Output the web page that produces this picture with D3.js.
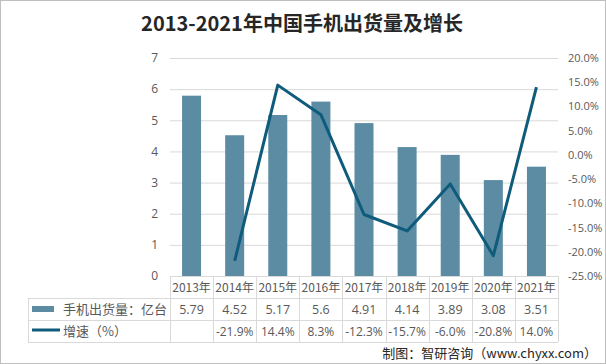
<!DOCTYPE html>
<html><head><meta charset="utf-8">
<script src="https://cdn.jsdelivr.net/npm/d3@7/dist/d3.min.js"></script>
<style>
html,body{margin:0;padding:0;background:#fff}
svg{display:block;font-family:"Noto Sans CJK SC","Noto Sans",sans-serif}
</style></head>
<body><div id="chart"></div>
<script>
const years=["2013年","2014年","2015年","2016年","2017年","2018年","2019年","2020年","2021年"];
const shipments=[5.79,4.52,5.17,5.6,4.91,4.14,3.89,3.08,3.51];
const growth=[null,-21.9,14.4,8.3,-12.3,-15.7,-6.0,-20.8,14.0];
const leftTicks=[0,1,2,3,4,5,6,7];
const rightTicks=[20,15,10,5,0,-5,-10,-15,-20,-25];
const seriesNames=["手机出货量：亿台","增速（%）"];

(function(){
  const W=606,H=364;
  const barColor="#5b8ca4",lineColor="#0f5b7b",grid="#d9d9d9",txt="#595959";
  const svg=d3.select("#chart").append("svg").attr("width",W).attr("height",H);
  svg.append("rect").attr("x",0.5).attr("y",0.5).attr("width",W-1).attr("height",H-1)
    .attr("fill","#fff").attr("stroke","#bfbfbf");
  svg.append("text").attr("x",302).attr("y",31).attr("text-anchor","middle")
    .attr("font-size",20).attr("font-weight","bold").attr("fill","#262626")
    .text("2013-2021年中国手机出货量及增长");

  const x0=170,x1=558,yTop=58,yBot=276;
  const x=d3.scaleBand().domain(years).range([x0,x1]);
  const y=d3.scaleLinear().domain([0,7]).range([yBot,yTop]);
  const y2=d3.scaleLinear().domain([-25,20]).range([yBot,yTop]);
  const af="'Open Sans',sans-serif";

  // gridlines + left axis
  const gl=svg.append("g").attr("transform",`translate(${x0},0)`)
    .call(d3.axisLeft(y).tickValues(leftTicks).tickSize(-(x1-x0)).tickPadding(12).tickFormat(d3.format("d")));
  gl.select(".domain").remove();
  gl.selectAll("line").attr("stroke",grid);
  gl.selectAll("text").attr("fill",txt).attr("font-size",12).attr("font-family",af);

  // right axis
  const gr=svg.append("g").attr("transform",`translate(${x1},0)`)
    .call(d3.axisRight(y2).tickValues(rightTicks).tickSize(0).tickPadding(10).tickFormat(d=>d.toFixed(1)+"%"));
  gr.select(".domain").remove();
  gr.selectAll("text").attr("fill",txt).attr("font-size",11).attr("font-family",af);

  // bars
  const bw=19;
  svg.append("g").selectAll("rect").data(shipments).join("rect")
    .attr("x",(d,i)=>x(years[i])+x.bandwidth()/2-bw/2)
    .attr("y",d=>y(d)).attr("width",bw).attr("height",d=>yBot-y(d))
    .attr("fill",barColor);

  // line
  const pts=growth.map((g,i)=>({g,i})).filter(d=>d.g!==null);
  svg.append("path").datum(pts).attr("fill","none").attr("stroke",lineColor)
    .attr("stroke-width",3).attr("stroke-linejoin","round")
    .attr("d",d3.line().x(d=>x(years[d.i])+x.bandwidth()/2).y(d=>y2(d.g)));

  // data table
  const tl=28,rows=[yBot,298,320,342];
  const t=svg.append("g").attr("stroke",grid).attr("shape-rendering","crispEdges");
  t.append("line").attr("x1",x0).attr("x2",x1).attr("y1",yBot+0.5).attr("y2",yBot+0.5);
  [rows[1],rows[2],rows[3]].forEach(r=>t.append("line").attr("x1",tl).attr("x2",x1).attr("y1",r+0.5).attr("y2",r+0.5));
  t.append("line").attr("x1",tl+0.5).attr("x2",tl+0.5).attr("y1",rows[1]).attr("y2",rows[3]);
  years.concat([null]).forEach(yr=>{
    const xx=yr?x(yr):x1;
    t.append("line").attr("x1",xx+0.5).attr("x2",xx+0.5).attr("y1",yBot).attr("y2",rows[3]);
  });
  const cx=d=>x(d)+x.bandwidth()/2;
  const tf="'Open Sans','Noto Sans CJK SC',sans-serif";
  svg.append("g").selectAll("text").data(years).join("text")
    .attr("x",cx).attr("y",292).attr("text-anchor","middle").attr("font-size",12)
    .attr("font-family","'Noto Sans CJK SC',sans-serif").attr("fill",txt).text(d=>d);
  svg.append("g").selectAll("text").data(shipments).join("text")
    .attr("x",(d,i)=>cx(years[i])).attr("y",314).attr("text-anchor","middle").attr("font-size",12.5)
    .attr("font-family",tf).attr("fill",txt).text(d=>d);
  svg.append("g").selectAll("text").data(growth).join("text")
    .attr("x",(d,i)=>cx(years[i])).attr("y",336).attr("text-anchor","middle").attr("font-size",12)
    .attr("font-family",tf).attr("fill",txt).text(d=>d===null?"":d.toFixed(1)+"%");

  // legend keys
  svg.append("rect").attr("x",32).attr("y",306).attr("width",22).attr("height",6).attr("fill",barColor);
  svg.append("line").attr("x1",32).attr("x2",60).attr("y1",330).attr("y2",330).attr("stroke",lineColor).attr("stroke-width",3);
  svg.append("text").attr("x",63).attr("y",314).attr("font-size",13).attr("fill",txt)
    .attr("font-family","'Noto Sans CJK SC',sans-serif").text(seriesNames[0]);
  svg.append("text").attr("x",63).attr("y",336).attr("font-size",13).attr("fill",txt)
    .attr("font-family","'Noto Sans CJK SC',sans-serif").text(seriesNames[1]);

  svg.append("text").attr("x",597).attr("y",358).attr("text-anchor","end").attr("font-size",13)
    .attr("font-family","'Noto Sans CJK SC',sans-serif").attr("fill","#262626")
    .text("制图：智研咨询（www.chyxx.com）");
})();
</script>
</body></html>
